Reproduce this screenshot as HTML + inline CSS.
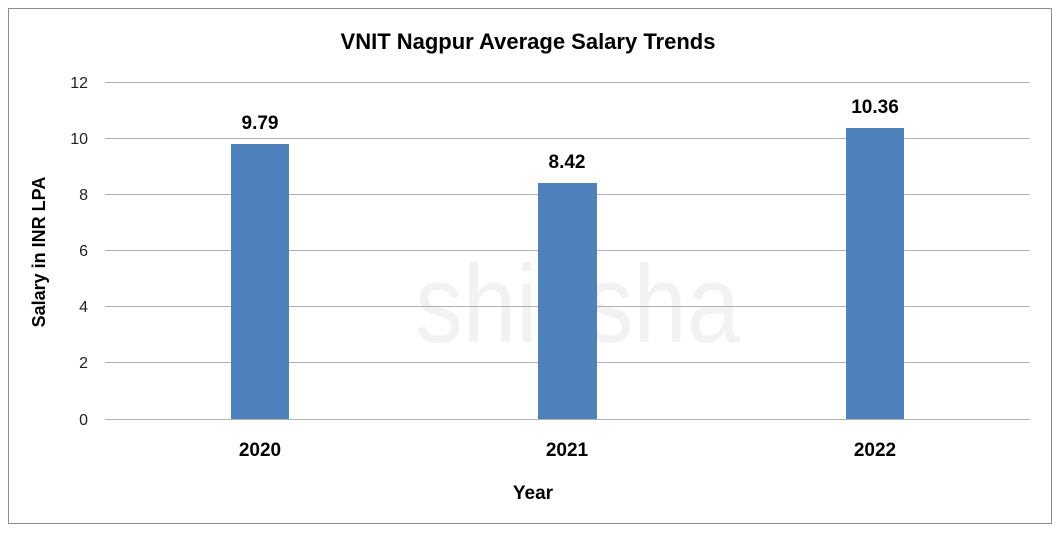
<!DOCTYPE html>
<html><head><meta charset="utf-8"><style>
body{margin:0;background:#fff;}
svg{display:block;font-family:"Liberation Sans",sans-serif;}
</style></head><body>
<svg width="1060" height="538" viewBox="0 0 1060 538" xmlns="http://www.w3.org/2000/svg">
<rect x="0" y="0" width="1060" height="538" fill="#fff"/>
<rect x="8.5" y="8.5" width="1043" height="515" fill="#fff" stroke="#8c8c8c" stroke-width="1"/>
<text x="415" y="342" font-size="110" fill="#f2f2f2" textLength="325" lengthAdjust="spacingAndGlyphs">shiksha</text>
<g stroke="#b0b0b0" stroke-width="1">
<line x1="105" y1="82.5" x2="1030" y2="82.5"/>
<line x1="105" y1="138.5" x2="1030" y2="138.5"/>
<line x1="105" y1="194.5" x2="1030" y2="194.5"/>
<line x1="105" y1="250.5" x2="1030" y2="250.5"/>
<line x1="105" y1="306.5" x2="1030" y2="306.5"/>
<line x1="105" y1="362.5" x2="1030" y2="362.5"/>
<line x1="105" y1="419.5" x2="1030" y2="419.5"/>
</g>
<g font-size="16" fill="#222" text-anchor="end">
<text x="88" y="88">12</text>
<text x="88" y="144">10</text>
<text x="88" y="200">8</text>
<text x="88" y="256">6</text>
<text x="88" y="312">4</text>
<text x="88" y="368">2</text>
<text x="88" y="425">0</text>
</g>
<g fill="#4f81bd">
<rect x="231" y="144" width="58" height="275"/>
<rect x="538" y="183" width="59" height="236"/>
<rect x="846" y="128" width="58" height="291"/>
</g>
<g font-size="19" font-weight="bold" fill="#000" text-anchor="middle">
<text x="260" y="129">9.79</text>
<text x="567" y="168">8.42</text>
<text x="875" y="113">10.36</text>
<text x="260" y="456">2020</text>
<text x="567" y="456">2021</text>
<text x="875" y="456">2022</text>
<text x="533" y="499">Year</text>
<text x="528" y="49" font-size="22">VNIT Nagpur Average Salary Trends</text>
<text transform="translate(45,252) rotate(-90)" font-size="18">Salary in INR LPA</text>
</g>
</svg>
</body></html>
